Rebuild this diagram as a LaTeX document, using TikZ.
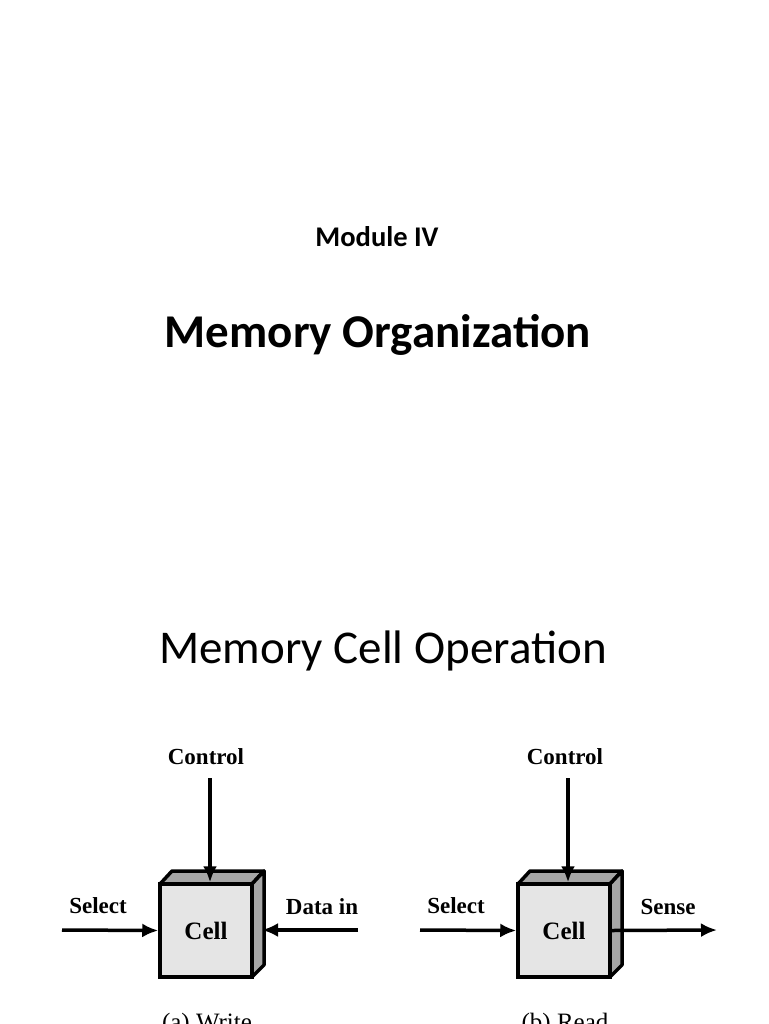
\documentclass[tikz,border=0pt]{standalone}
\usepackage{fontspec}
\setmainfont{Carlito}
\newfontfamily\tms{Liberation Serif}
\usetikzlibrary{arrows.meta}
\begin{document}
\begin{tikzpicture}[x=1pt,y=-1pt,
  lab/.style={font=\tms\bfseries\fontsize{23}{23}\selectfont,inner sep=0},
  arr/.style={line width=3.5pt,-{Latex[length=16pt,width=14pt]}},
  front/.style={draw,line width=3.5pt,fill=gray!20,minimum width=92pt,minimum height=93pt,inner sep=0,font=\tms\bfseries\fontsize{25}{25}\selectfont}]
\clip (0,0) rectangle (768,1024);
\fill[white] (0,0) rectangle (768,1024);
\node[font=\bfseries\fontsize{28.5}{28.5}\selectfont] (mod) at (377,237) {Module IV};
\node[font=\bfseries\fontsize{47}{47}\selectfont] (org) at (378,335) {Memory Organization};
\node[font=\fontsize{47}{47}\selectfont] (op) at (383,651) {Memory Cell Operation};
\foreach \n/\cx in {a/206,b/564}{
  \fill[gray!70,draw=black,line width=3.5pt,line join=round]
    (\cx-46,884)--(\cx-34,871)--(\cx+58,871)--(\cx+46,884)--cycle;
  \fill[gray!70,draw=black,line width=3.5pt,line join=round]
    (\cx+46,884)--(\cx+58,871)--(\cx+58,965)--(\cx+46,977)--cycle;
  \node[front] (\n) at (\cx,930.5) {Cell};
}
\node[lab] (ca) at (206,757) {Control};
\node[lab] (cb) at (565,757) {Control};
\coordinate (ca0) at (210,778);
\coordinate (cb0) at (568,778);
\draw[arr] (ca0) -- (a.north -| ca0);
\draw[arr] (cb0) -- (b.north -| cb0);
\node[lab] (sa) at (98,906) {Select};
\node[lab] (sb) at (456,906) {Select};
\node[lab] (da) at (322,907) {Data in};
\node[lab] (se) at (668,907) {Sense};
\coordinate (sa0) at (62,930);
\coordinate (sb0) at (420,930);
\coordinate (da0) at (358,930);
\coordinate (da1) at (262,930);
\coordinate (se1) at (717,930);
\draw[arr] (sa0) -- (a.west);
\draw[arr] (sb0) -- (b.west);
\draw[arr] (da0) -- (da1);
\draw[arr] (b.east) -- (se1);
\node[lab,font=\tms\fontsize{25}{25}\selectfont] (wa) at (207,1024) {(a) Write};
\node[lab,font=\tms\fontsize{25}{25}\selectfont] (rb) at (565,1024) {(b) Read};
\end{tikzpicture}
\end{document}
